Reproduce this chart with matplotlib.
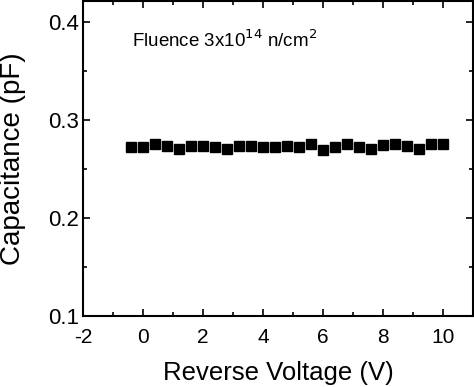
import matplotlib.pyplot as plt
import numpy as np

plt.rcParams['font.family'] = ['Liberation Sans', 'DejaVu Sans']
plt.rcParams['axes.unicode_minus'] = False

# Datos
voltage = [-0.4, 0.0, 0.4, 0.8, 1.2, 1.6, 2.0, 2.4, 2.8, 3.2, 3.6, 4.0, 4.4, 4.8,
           5.2, 5.6, 6.0, 6.4, 6.8, 7.2, 7.6, 8.0, 8.4, 8.8, 9.2, 9.6, 10.0]
capacitance = [0.2719, 0.2719, 0.2749, 0.2729, 0.2702, 0.2729, 0.2729, 0.2719, 0.2702,
               0.2736, 0.2729, 0.2719, 0.2719, 0.2736, 0.2719, 0.2749, 0.2692, 0.2719,
               0.2749, 0.2719, 0.2702, 0.2742, 0.2756, 0.2729, 0.2702, 0.2749, 0.2749]

fig = plt.figure(figsize=(4.74, 3.87), dpi=100)
ax = fig.add_axes([0.175, 0.1835, 0.823, 0.815])
ax.plot(voltage, capacitance, 's', color='black', markersize=6.5)

ax.set_xlim(-2, 11)
ax.set_ylim(0.1, 0.4214)
ax.set_xticks([-2, 0, 2, 4, 6, 8, 10])
ax.set_xticks(np.arange(-1, 11, 2), minor=True)
ax.set_yticks([0.1, 0.2, 0.3, 0.4])
ax.set_yticks([0.15, 0.25, 0.35], minor=True)
ax.tick_params(which='both', direction='in', top=True, right=True, width=1.2)
ax.tick_params(which='major', length=5)
ax.tick_params(which='minor', length=3)
ax.tick_params(axis='x', labelsize=15, pad=9)
ax.tick_params(axis='y', labelsize=16, pad=3)
for s in ax.spines.values():
    s.set_linewidth(1.5)

ax.set_xlabel('Reverse Voltage (V)', fontsize=18.5, labelpad=10)
ax.set_ylabel('Capacitance (pF)', fontsize=20, labelpad=16)
ax.text(0.126, 0.873, r'Fluence 3x10$^{14}$ n/cm$^{2}$', transform=ax.transAxes,
        fontsize=13.5, va='center', ha='left')

fig.savefig('out.png', dpi=100)
